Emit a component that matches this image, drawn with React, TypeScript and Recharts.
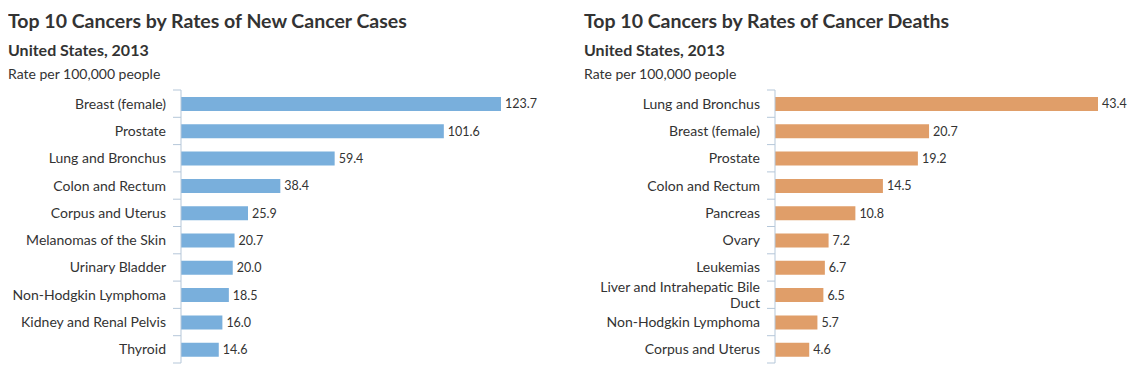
import { BarChart, Bar, XAxis, YAxis, LabelList } from 'recharts'

const newCaseSites = [
  'Breast (female)',
  'Prostate',
  'Lung and Bronchus',
  'Colon and Rectum',
  'Corpus and Uterus',
  'Melanomas of the Skin',
  'Urinary Bladder',
  'Non-Hodgkin Lymphoma',
  'Kidney and Renal Pelvis',
  'Thyroid',
]
const newCaseRates = [123.7, 101.6, 59.4, 38.4, 25.9, 20.7, 20.0, 18.5, 16.0, 14.6]

const deathSites = [
  'Lung and Bronchus',
  'Breast (female)',
  'Prostate',
  'Colon and Rectum',
  'Pancreas',
  'Ovary',
  'Leukemias',
  'Liver and Intrahepatic Bile Duct',
  'Non-Hodgkin Lymphoma',
  'Corpus and Uterus',
]
const deathRates = [43.4, 20.7, 19.2, 14.5, 10.8, 7.2, 6.7, 6.5, 5.7, 4.6]

const FONT = 'Lato, sans-serif'
const TEXT = '#333333'
const AXIS = '#b5c7d9'
const BAND = 27.3

const wrap = (s: string, max = 27) => {
  const lines: string[] = []
  let cur = ''
  s.split(' ').forEach(w => {
    const next = cur ? cur + ' ' + w : w
    if (next.length > max && cur) {
      lines.push(cur)
      cur = w
    } else cur = next
  })
  if (cur) lines.push(cur)
  return lines
}

const CatTick = ({ x, y, payload, index, visibleTicksCount }: any) => {
  const lines = wrap(String(payload.value))
  const last = index === visibleTicksCount - 1
  return (
    <g>
      <line x1={x + 7} x2={x + 15} y1={y - BAND / 2} y2={y - BAND / 2} stroke={AXIS} />
      {last && <line x1={x + 7} x2={x + 15} y1={y + BAND / 2} y2={y + BAND / 2} stroke={AXIS} />}
      <text x={x} y={y} textAnchor="end" fill={TEXT} fontSize={14} fontFamily={FONT}>
        {lines.map((l, i) => (
          <tspan key={i} x={x} dy={i === 0 ? 5 - ((lines.length - 1) * 16) / 2 : 16}>
            {l}
          </tspan>
        ))}
      </text>
    </g>
  )
}

interface PanelProps {
  left: number
  width: number
  title: string
  sites: string[]
  rates: number[]
  color: string
  axisWidth: number
  plotWidth: number
}

function Panel({ left, width, title, sites, rates, color, axisWidth, plotWidth }: PanelProps) {
  const data = sites.map((s, i) => ({ site: s, rate: rates[i] }))
  return (
    <div style={{ position: 'absolute', left, top: 0, width, height: 365 }}>
      <div style={{ position: 'absolute', left: 0, top: 1, fontSize: 19.5, fontWeight: 700, color: TEXT, whiteSpace: 'nowrap' }}>
        {title}
      </div>
      <div style={{ position: 'absolute', left: 0, top: 31.5, fontSize: 16, fontWeight: 700, color: TEXT, whiteSpace: 'nowrap' }}>
        United States, 2013
      </div>
      <div style={{ position: 'absolute', left: 0, top: 57, fontSize: 14, color: TEXT, whiteSpace: 'nowrap' }}>
        Rate per 100,000 people
      </div>
      <div style={{ position: 'absolute', left: 0, top: 72 }}>
        <BarChart
          width={width}
          height={290}
          data={data}
          layout="vertical"
          margin={{ top: 10, right: width - axisWidth - plotWidth, bottom: 7, left: 0 }}
        >
          <XAxis type="number" hide domain={[0, 'dataMax']} />
          <YAxis
            type="category"
            dataKey="site"
            width={axisWidth}
            axisLine={{ stroke: AXIS }}
            tickLine={false}
            tickSize={8}
            tickMargin={7}
            interval={0}
            tick={<CatTick />}
          />
          <Bar dataKey="rate" fill={color} barSize={14} isAnimationActive={false}>
            <LabelList
              dataKey="rate"
              position="right"
              offset={4}
              fill={TEXT}
              fontSize={12.5}
              fontFamily={FONT}
              formatter={(v: any) => Number(v).toFixed(1)}
            />
          </Bar>
        </BarChart>
      </div>
    </div>
  )
}

export default function App() {
  return (
    <div style={{ position: 'relative', width: 1126, height: 357, overflow: 'hidden', fontFamily: FONT }}>
      <Panel
        left={0}
        width={560}
        title="Top 10 Cancers by Rates of New Cancer Cases"
        sites={newCaseSites}
        rates={newCaseRates}
        color="#79afdc"
        axisWidth={173}
        plotWidth={320}
      />
      <Panel
        left={576}
        width={548}
        title="Top 10 Cancers by Rates of Cancer Deaths"
        sites={deathSites}
        rates={deathRates}
        color="#e09e69"
        axisWidth={191}
        plotWidth={323}
      />
    </div>
  )
}
